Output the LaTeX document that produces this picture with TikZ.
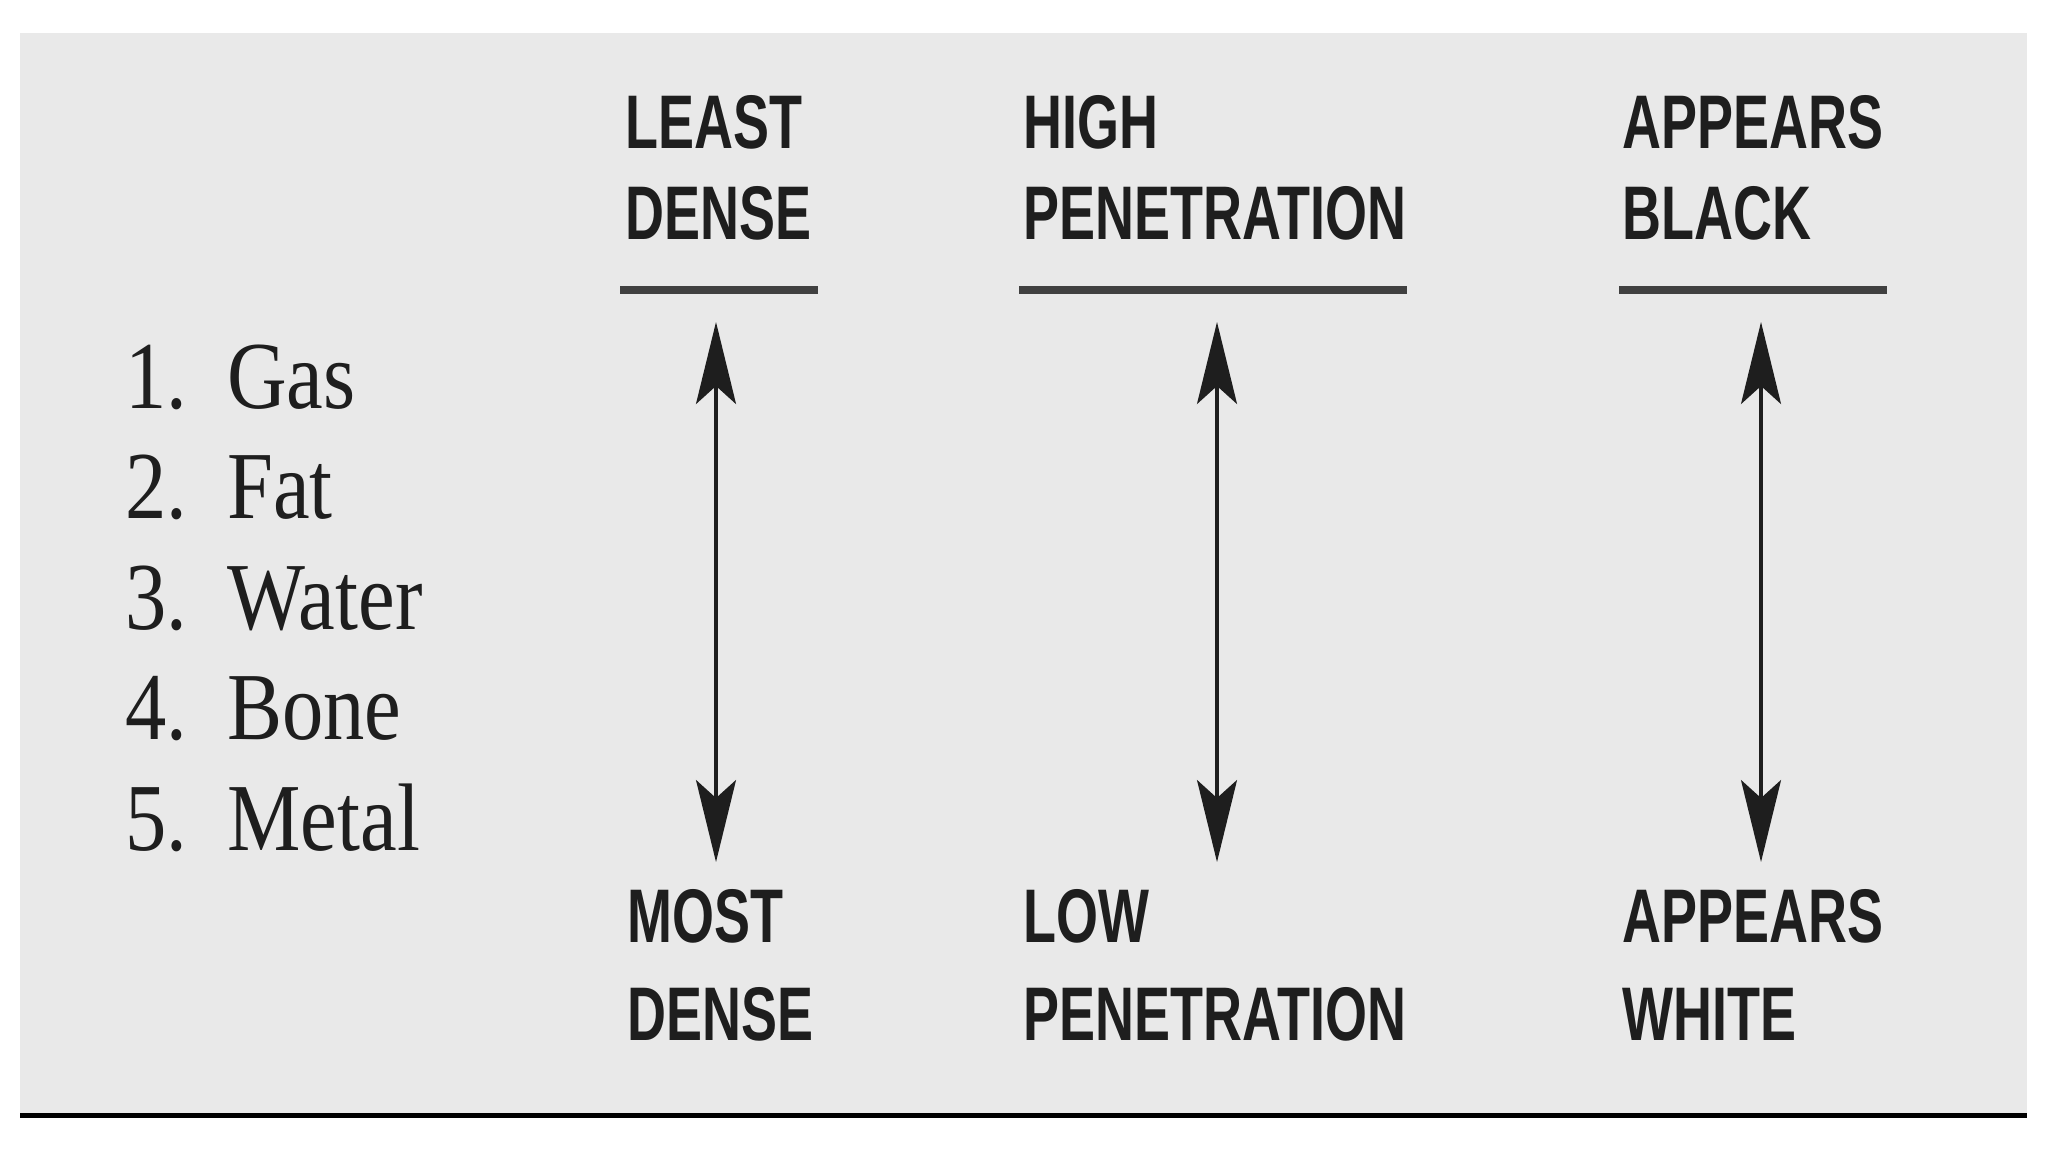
\documentclass[tikz,border=0pt]{standalone}
\usepackage{fontspec}
\usetikzlibrary{arrows.meta}
\newfontfamily\labfont[FakeStretch=0.71]{Liberation Sans Bold}
\newfontfamily\listfont[FakeStretch=0.86]{Liberation Serif}
\definecolor{panel}{HTML}{E9E9E9}
\definecolor{ink}{HTML}{1E1E1E}
\tikzset{
  lab/.style={anchor=base west, inner sep=0pt, text=ink, font=\labfont\fontsize{38}{45}\selectfont},
  item/.style={anchor=base west, inner sep=0pt, text=ink, font=\listfont\fontsize{48}{55}\selectfont},
  rule/.style={draw=ink!85, line width=4pt},
  dbl/.style={draw=ink, line width=1.6pt, {Stealth[length=41pt,width=20pt,inset=9pt]}-{Stealth[length=41pt,width=20pt,inset=9pt]}}
}
\begin{document}
\begin{tikzpicture}[x=0.5pt,y=-0.5pt]
\useasboundingbox (0,0) rectangle (2048,1152);
\fill[white] (0,0) rectangle (2048,1152);
\fill[panel] (20,33) rectangle (2027,1114);
\draw[black, line width=2.5pt] (20,1115) -- (2027,1115);

% list
\node[item] (i1) at (125,408) {\makebox[51pt][l]{1.}Gas};
\node[item] (i2) at (125,518.5) {\makebox[51pt][l]{2.}Fat};
\node[item] (i3) at (125,629) {\makebox[51pt][l]{3.}Water};
\node[item] (i4) at (125,739.5) {\makebox[51pt][l]{4.}Bone};
\node[item] (i5) at (125,850) {\makebox[51pt][l]{5.}Metal};

% top labels
\node[lab] (t1a) at (625,148) {LEAST};
\node[lab] (t1b) at (625,239) {DENSE};
\node[lab] (t2a) at (1023,148) {HIGH};
\node[lab] (t2b) at (1023,239) {PENETRATION};
\node[lab] (t3a) at (1622,148) {APPEARS};
\node[lab] (t3b) at (1622,239) {BLACK};

% bottom labels
\node[lab] (b1a) at (627,942) {MOST};
\node[lab] (b1b) at (627,1040) {DENSE};
\node[lab] (b2a) at (1023,942) {LOW};
\node[lab] (b2b) at (1023,1040) {PENETRATION};
\node[lab] (b3a) at (1622,942) {APPEARS};
\node[lab] (b3b) at (1622,1040) {WHITE};

% rules
\coordinate (r1a) at (620,290); \coordinate (r1b) at (818,290);
\coordinate (r2a) at (1019,290); \coordinate (r2b) at (1407,290);
\coordinate (r3a) at (1619,290); \coordinate (r3b) at (1887,290);
\draw[rule] (r1a) -- (r1b);
\draw[rule] (r2a) -- (r2b);
\draw[rule] (r3a) -- (r3b);

% arrows
\coordinate (a1t) at (716,322); \coordinate (a1b) at (716,862);
\coordinate (a2t) at (1217,322); \coordinate (a2b) at (1217,862);
\coordinate (a3t) at (1761,322); \coordinate (a3b) at (1761,862);
\draw[dbl] (a1t) -- (a1b);
\draw[dbl] (a2t) -- (a2b);
\draw[dbl] (a3t) -- (a3b);
\end{tikzpicture}
\end{document}
